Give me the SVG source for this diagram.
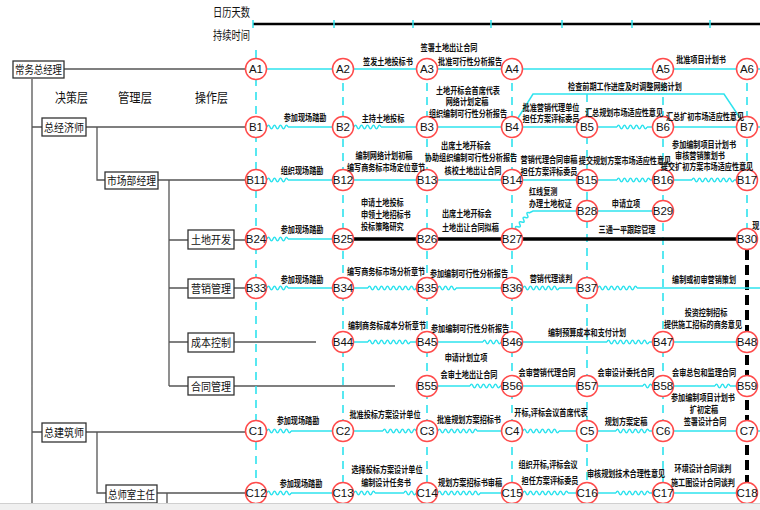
<svg xmlns="http://www.w3.org/2000/svg" width="760" height="510" viewBox="0 0 760 510">
<style>
.c{stroke:#2fe3ee;stroke-width:1.5;fill:none}
.k{stroke:#000;stroke-width:3.5;fill:none}
.d{stroke:#2fe3ee;stroke-width:1.6;stroke-dasharray:8 6;fill:none}
.kd{stroke:#000;stroke-width:4;stroke-dasharray:10 5;fill:none}
.o{stroke:#555;stroke-width:1.3;fill:none}
.n circle{fill:#fff;stroke:#ff4b4b;stroke-width:1.5}
.n text{font-family:"Liberation Sans",Arial,sans-serif;font-size:11.5px;text-anchor:middle;fill:#111}
.lb{font-family:"Noto Sans CJK SC","Noto Sans",sans-serif;font-size:9.5px;font-weight:bold;fill:#111;text-anchor:middle}
.ls{text-anchor:start}
.bx rect{fill:#fff;stroke:#333;stroke-width:1.3}
.bx text{font-family:"Noto Sans CJK SC","Noto Sans",sans-serif;font-size:11px;text-anchor:middle;fill:#111}
.hd{font-family:"Noto Sans CJK SC","Noto Sans",sans-serif;font-size:12px;fill:#111}
.ly{font-family:"Noto Sans CJK SC","Noto Sans",sans-serif;font-size:13px;fill:#111}
</style>
<rect width="760" height="510" fill="#fff"/>

<!-- header -->
<g id="header">
<text class="hd" x="213" y="17" textLength="37" lengthAdjust="spacingAndGlyphs">日历天数</text>
<text class="hd" x="213" y="40" textLength="37" lengthAdjust="spacingAndGlyphs">持续时间</text>
<line x1="253" y1="24" x2="760" y2="24" stroke="#000" stroke-width="2.5"/>
<g stroke="#2fe3ee" stroke-width="1.5">
<line x1="253" y1="20" x2="253" y2="28"/><line x1="334" y1="20" x2="334" y2="28"/><line x1="413" y1="20" x2="413" y2="28"/><line x1="491" y1="20" x2="491" y2="28"/><line x1="562" y1="20" x2="562" y2="28"/><line x1="632" y1="20" x2="632" y2="28"/><line x1="710" y1="20" x2="710" y2="28"/>
</g>
</g>

<!-- org chart -->
<g id="org-lines" class="o">
<path d="M64,69H245 M32,79V503 M32,127H42 M86,127H245 M97,127V180H105 M158,180H245 M169,180V386 M169,240H188 M169,288H188 M169,342H188 M169,386H188 M234,240H245 M234,288H245 M234,342H316 M234,386H395 M32,432H42 M86,432H245 M97,432V493H106 M157,493H245 M167,493V503"/>
</g>
<g id="org-changwu" class="bx"><rect x="13" y="61" width="51" height="17"/><text x="38.5" y="74" textLength="47" lengthAdjust="spacingAndGlyphs">常务总经理</text></g>
<g id="org-zongjingji" class="bx"><rect x="42" y="118" width="44" height="18"/><text x="64" y="131.5" textLength="40" lengthAdjust="spacingAndGlyphs">总经济师</text></g>
<g id="org-shichang" class="bx"><rect x="105" y="172" width="53" height="17"/><text x="131.5" y="185" textLength="49" lengthAdjust="spacingAndGlyphs">市场部经理</text></g>
<g id="org-tudi" class="bx"><rect x="188" y="230" width="46" height="19"/><text x="211" y="244" textLength="40" lengthAdjust="spacingAndGlyphs">土地开发</text></g>
<g id="org-yingxiao" class="bx"><rect x="188" y="279" width="46" height="19"/><text x="211" y="293" textLength="40" lengthAdjust="spacingAndGlyphs">营销管理</text></g>
<g id="org-chengben" class="bx"><rect x="188" y="333" width="46" height="19"/><text x="211" y="347" textLength="40" lengthAdjust="spacingAndGlyphs">成本控制</text></g>
<g id="org-hetong" class="bx"><rect x="188" y="377" width="46" height="18"/><text x="211" y="390.5" textLength="40" lengthAdjust="spacingAndGlyphs">合同管理</text></g>
<g id="org-zongjianzhu" class="bx"><rect x="42" y="423" width="44" height="19"/><text x="64" y="437" textLength="40" lengthAdjust="spacingAndGlyphs">总建筑师</text></g>
<g id="org-zongshishi" class="bx"><rect x="106" y="485" width="51" height="18"/><text x="131.5" y="498.5" textLength="47" lengthAdjust="spacingAndGlyphs">总师室主任</text></g>
<g id="layers">
<text class="ly" x="55" y="102" textLength="33" lengthAdjust="spacingAndGlyphs">决策层</text>
<text class="ly" x="118" y="102" textLength="34" lengthAdjust="spacingAndGlyphs">管理层</text>
<text class="ly" x="195" y="102" textLength="33" lengthAdjust="spacingAndGlyphs">操作层</text>
</g>

<!-- connectors -->
<g id="connectors">
<g class="d">
<line x1="256" y1="50" x2="256" y2="493"/>
<line x1="343" y1="69" x2="343" y2="493"/>
<line x1="427" y1="69" x2="427" y2="493"/>
<line x1="512" y1="69" x2="512" y2="493"/>
<line x1="587" y1="94" x2="587" y2="493"/>
<line x1="663" y1="69" x2="663" y2="493"/>
<line x1="747" y1="69" x2="747" y2="239"/>
</g>
<line class="kd" x1="747" y1="250" x2="747" y2="493"/>

<g class="c">
<path d="M267,69H332 M354,69H416 M438,69H501 M523,69H652 M674,69H736 M758,69H760"/>
<path d="M267,127 q1.5,-3.5 3,0 t3,0 t3,0 t3,0 t3,0 t3,0 t3,0 M288,127H332"/>
<path d="M354,127 q1.5,-3.5 3,0 t3,0 t3,0 t3,0 t3,0 t3,0 t3,0 t3,0 t3,0 M381,127H416"/>
<path d="M438,127H501 M523,127H576 M598,127H617 M647,127H652 M674,127H736 M758,127H760"/>
<path d="M617,127 q1.5,-3.5 3,0 t3,0 t3,0 t3,0 t3,0 t3,0 t3,0 t3,0 t3,0 t3,0"/>
<polyline points="518,118 533,94 724,94 740,118"/>
<path d="M267,180 q1.5,-3.5 3,0 t3,0 t3,0 t3,0 t3,0 t3,0 t3,0 M288,180H332 M354,180H416 M438,180H501 M523,180H576 M598,180H617 M650,180H652 M674,180H692 M734,180H736"/>
<path d="M617,180 q1.5,-3.5 3,0 t3,0 t3,0 t3,0 t3,0 t3,0 t3,0 t3,0 t3,0 t3,0 t3,0"/>
<path d="M692,180 q1.5,-3.5 3,0 t3,0 t3,0 t3,0 t3,0 t3,0 t3,0 t3,0 t3,0 t3,0 t3,0 t3,0 t3,0 t3,0"/>
<path d="M267,239 q1.5,-3.5 3,0 t3,0 t3,0 t3,0 t3,0 t3,0 t3,0 M288,239H332"/>
<path transform="translate(516,229) rotate(-50.5)" d="M0,0 q1.5,-3.5 3,0 t3,0 t3,0 t3,0 t3,0 t3,0 t3,0"/>
<polyline points="529,213 533,211 576,211"/>
<path d="M598,211H652"/>
<path d="M267,288 q1.5,-3.5 3,0 t3,0 t3,0 t3,0 t3,0 t3,0 t3,0 M288,288H332 M354,288H368"/>
<path d="M368,288 q1.5,-3.5 3,0 t3,0 t3,0 t3,0 t3,0 t3,0 t3,0 t3,0 t3,0 t3,0 t3,0 t3,0 t3,0 t3,0 t3,0 t3,0"/>
<path d="M438,288 q1.5,-3.5 3,0 t3,0 t3,0 t3,0 t3,0 t3,0 M456,288H501"/>
<path d="M523,288 q1.5,-3.5 3,0 t3,0 t3,0 t3,0 t3,0 t3,0 t3,0 t3,0 t3,0 t3,0 t3,0 t3,0 M559,288H576"/>
<path d="M598,288 q1.5,-3.5 3,0 t3,0 t3,0 t3,0 t3,0 t3,0 t3,0 t3,0 t3,0 t3,0 t3,0 t3,0 t3,0 M637,288H760"/>
<path d="M354,342H368 M410,342H416 M438,342H483 M523,342H607 M649,342H652 M674,342H736"/>
<path d="M368,342 q1.5,-3.5 3,0 t3,0 t3,0 t3,0 t3,0 t3,0 t3,0 t3,0 t3,0 t3,0 t3,0 t3,0 t3,0 t3,0"/>
<path d="M483,342 q1.5,-3.5 3,0 t3,0 t3,0 t3,0 t3,0 t3,0"/>
<path d="M607,342 q1.5,-3.5 3,0 t3,0 t3,0 t3,0 t3,0 t3,0 t3,0 t3,0 t3,0 t3,0 t3,0 t3,0 t3,0 t3,0"/>
<path d="M438,386H470 M500,386H501 M523,386H576 M598,386H643 M674,386H715 M730,386H736"/>
<path d="M470,386 q1.5,-3.5 3,0 t3,0 t3,0 t3,0 t3,0 t3,0 t3,0 t3,0 t3,0 t3,0"/>
<path d="M643,386 q1.5,-3.5 3,0 t3,0 t3,0"/>
<path d="M715,386 q1.5,-3.5 3,0 t3,0 t3,0 t3,0 t3,0"/>
<path d="M267,431 q1.5,-3.5 3,0 t3,0 t3,0 t3,0 t3,0 t3,0 t3,0 t3,0 M291,431H332 M354,431H383"/>
<path d="M383,431 q1.5,-3.5 3,0 t3,0 t3,0 t3,0 t3,0 t3,0 t3,0 t3,0 t3,0 t3,0 t3,0"/>
<path d="M438,431 q1.5,-3.5 3,0 t3,0 t3,0 t3,0 t3,0 t3,0 t3,0 t3,0 t3,0 t3,0 t3,0 t3,0 t3,0 M477,431H501"/>
<path d="M523,431 q1.5,-3.5 3,0 t3,0 t3,0 t3,0 t3,0 t3,0 t3,0 t3,0 t3,0 t3,0 t3,0 t3,0 M559,431H576 M598,431H616"/>
<path d="M616,431 q1.5,-3.5 3,0 t3,0 t3,0 t3,0 t3,0 t3,0 t3,0 t3,0 t3,0 t3,0 t3,0 M649,431H652 M674,431H736 M758,431H760"/>
<path d="M267,493 q1.5,-3.5 3,0 t3,0 t3,0 t3,0 t3,0 t3,0 t3,0 t3,0 M291,493H332"/>
<path d="M354,493 q1.5,-3.5 3,0 t3,0 t3,0 t3,0 t3,0 t3,0 t3,0 M375,493H404"/>
<path d="M404,493 q1.5,-3.5 3,0 t3,0 t3,0 t3,0"/>
<path d="M438,493 q1.5,-3.5 3,0 t3,0 t3,0 t3,0 t3,0 t3,0 t3,0 t3,0 t3,0 t3,0 t3,0 t3,0 t3,0 t3,0 M480,493H501"/>
<path d="M523,493 q1.5,-3.5 3,0 t3,0 t3,0 t3,0 t3,0 t3,0 t3,0 t3,0 t3,0 t3,0 t3,0 t3,0 t3,0 t3,0 t3,0 M568,493H576 M598,493H616"/>
<path d="M616,493 q1.5,-3.5 3,0 t3,0 t3,0 t3,0 t3,0 t3,0 t3,0 t3,0 t3,0 t3,0 t3,0 M649,493H652 M674,493H736"/>
</g>
<path class="k" d="M354,239H416 M438,239H501 M523,239H736"/>
</g>

<!-- nodes -->
<g id="A1" class="n"><circle cx="256" cy="69" r="10.5"/><text x="256" y="73">A1</text></g>
<g id="A2" class="n"><circle cx="343" cy="69" r="10.5"/><text x="343" y="73">A2</text></g>
<g id="A3" class="n"><circle cx="427" cy="69" r="10.5"/><text x="427" y="73">A3</text></g>
<g id="A4" class="n"><circle cx="512" cy="69" r="10.5"/><text x="512" y="73">A4</text></g>
<g id="A5" class="n"><circle cx="663" cy="69" r="10.5"/><text x="663" y="73">A5</text></g>
<g id="A6" class="n"><circle cx="747" cy="69" r="10.5"/><text x="747" y="73">A6</text></g>

<g id="B1" class="n"><circle cx="256" cy="127" r="10.5"/><text x="256" y="131">B1</text></g>
<g id="B2" class="n"><circle cx="343" cy="127" r="10.5"/><text x="343" y="131">B2</text></g>
<g id="B3" class="n"><circle cx="427" cy="127" r="10.5"/><text x="427" y="131">B3</text></g>
<g id="B4" class="n"><circle cx="512" cy="127" r="10.5"/><text x="512" y="131">B4</text></g>
<g id="B5" class="n"><circle cx="587" cy="127" r="10.5"/><text x="587" y="131">B5</text></g>
<g id="B6" class="n"><circle cx="663" cy="127" r="10.5"/><text x="663" y="131">B6</text></g>
<g id="B7" class="n"><circle cx="747" cy="127" r="10.5"/><text x="747" y="131">B7</text></g>

<g id="B11" class="n"><circle cx="256" cy="180" r="10.5"/><text x="256" y="184">B11</text></g>
<g id="B12" class="n"><circle cx="343" cy="180" r="10.5"/><text x="343" y="184">B12</text></g>
<g id="B13" class="n"><circle cx="427" cy="180" r="10.5"/><text x="427" y="184">B13</text></g>
<g id="B14" class="n"><circle cx="512" cy="180" r="10.5"/><text x="512" y="184">B14</text></g>
<g id="B15" class="n"><circle cx="587" cy="180" r="10.5"/><text x="587" y="184">B15</text></g>
<g id="B16" class="n"><circle cx="663" cy="180" r="10.5"/><text x="663" y="184">B16</text></g>
<g id="B17" class="n"><circle cx="747" cy="180" r="10.5"/><text x="747" y="184">B17</text></g>

<g id="B24" class="n"><circle cx="256" cy="239" r="10.5"/><text x="256" y="243">B24</text></g>
<g id="B25" class="n"><circle cx="343" cy="239" r="10.5"/><text x="343" y="243">B25</text></g>
<g id="B26" class="n"><circle cx="427" cy="239" r="10.5"/><text x="427" y="243">B26</text></g>
<g id="B27" class="n"><circle cx="512" cy="239" r="10.5"/><text x="512" y="243">B27</text></g>
<g id="B28" class="n"><circle cx="587" cy="211" r="10.5"/><text x="587" y="215">B28</text></g>
<g id="B29" class="n"><circle cx="663" cy="211" r="10.5"/><text x="663" y="215">B29</text></g>
<g id="B30" class="n"><circle cx="747" cy="239" r="10.5"/><text x="747" y="243">B30</text></g>

<g id="B33" class="n"><circle cx="256" cy="288" r="10.5"/><text x="256" y="292">B33</text></g>
<g id="B34" class="n"><circle cx="343" cy="288" r="10.5"/><text x="343" y="292">B34</text></g>
<g id="B35" class="n"><circle cx="427" cy="288" r="10.5"/><text x="427" y="292">B35</text></g>
<g id="B36" class="n"><circle cx="512" cy="288" r="10.5"/><text x="512" y="292">B36</text></g>
<g id="B37" class="n"><circle cx="587" cy="288" r="10.5"/><text x="587" y="292">B37</text></g>

<g id="B44" class="n"><circle cx="343" cy="342" r="10.5"/><text x="343" y="346">B44</text></g>
<g id="B45" class="n"><circle cx="427" cy="342" r="10.5"/><text x="427" y="346">B45</text></g>
<g id="B46" class="n"><circle cx="512" cy="342" r="10.5"/><text x="512" y="346">B46</text></g>
<g id="B47" class="n"><circle cx="663" cy="342" r="10.5"/><text x="663" y="346">B47</text></g>
<g id="B48" class="n"><circle cx="747" cy="342" r="10.5"/><text x="747" y="346">B48</text></g>

<g id="B55" class="n"><circle cx="427" cy="386" r="10.5"/><text x="427" y="390">B55</text></g>
<g id="B56" class="n"><circle cx="512" cy="386" r="10.5"/><text x="512" y="390">B56</text></g>
<g id="B57" class="n"><circle cx="587" cy="386" r="10.5"/><text x="587" y="390">B57</text></g>
<g id="B58" class="n"><circle cx="663" cy="386" r="10.5"/><text x="663" y="390">B58</text></g>
<g id="B59" class="n"><circle cx="747" cy="386" r="10.5"/><text x="747" y="390">B59</text></g>

<g id="C1" class="n"><circle cx="256" cy="431" r="10.5"/><text x="256" y="435">C1</text></g>
<g id="C2" class="n"><circle cx="343" cy="431" r="10.5"/><text x="343" y="435">C2</text></g>
<g id="C3" class="n"><circle cx="427" cy="431" r="10.5"/><text x="427" y="435">C3</text></g>
<g id="C4" class="n"><circle cx="512" cy="431" r="10.5"/><text x="512" y="435">C4</text></g>
<g id="C5" class="n"><circle cx="587" cy="431" r="10.5"/><text x="587" y="435">C5</text></g>
<g id="C6" class="n"><circle cx="663" cy="431" r="10.5"/><text x="663" y="435">C6</text></g>
<g id="C7" class="n"><circle cx="747" cy="431" r="10.5"/><text x="747" y="435">C7</text></g>

<g id="C12" class="n"><circle cx="256" cy="493" r="10.5"/><text x="256" y="497">C12</text></g>
<g id="C13" class="n"><circle cx="343" cy="493" r="10.5"/><text x="343" y="497">C13</text></g>
<g id="C14" class="n"><circle cx="427" cy="493" r="10.5"/><text x="427" y="497">C14</text></g>
<g id="C15" class="n"><circle cx="512" cy="493" r="10.5"/><text x="512" y="497">C15</text></g>
<g id="C16" class="n"><circle cx="587" cy="493" r="10.5"/><text x="587" y="497">C16</text></g>
<g id="C17" class="n"><circle cx="663" cy="493" r="10.5"/><text x="663" y="497">C17</text></g>
<g id="C18" class="n"><circle cx="747" cy="493" r="10.5"/><text x="747" y="497">C18</text></g>

<!-- labels -->
<g id="labels" class="lb" transform="scale(0.75,1)">
<text x="517.3" y="65">签发土地投标书</text>
<text x="598.7" y="51">签署土地出让合同</text>
<text x="626.7" y="65">批准可行性分析报告</text>
<text x="934.7" y="63">批准项目计划书</text>

<text x="406.7" y="121">参加现场踏勘</text>
<text x="510.7" y="122">主持土地投标</text>
<text x="624" y="94">土地开标会首席代表</text>
<text x="622.7" y="105.5">网络计划定稿</text>
<text x="624" y="117">组织编制可行性分析报告</text>
<text x="833.3" y="90">检查前期工作进度及时调整网络计划</text>
<text x="734.7" y="111">批准营销代理单位</text>
<text x="734.7" y="122">担任方案评标委员</text>
<text x="832" y="116">汇总规划市场适应性意见</text>
<text x="940" y="120">汇总扩初市场适应性意见</text>

<text x="402.7" y="174">组织现场踏勘</text>
<text x="512" y="159">编制网络计划初稿</text>
<text x="514.7" y="171">编写商务标市场定位章节</text>
<text x="621.3" y="149">出席土地开标会</text>
<text x="628" y="161">协助组织编制可行性分析报告</text>
<text x="630.7" y="174">核校土地出让合同</text>
<text x="732" y="163">营销代理合同审稿</text>
<text x="732" y="175">担任方案评标委员</text>
<text x="833.3" y="164">提交规划方案市场适应性意见</text>
<text x="938.7" y="148">参加编制项目计划书</text>
<text x="933.3" y="159">审核营销策划书</text>
<text x="942.7" y="170">提交扩初方案市场适应性意见</text>

<text x="402.7" y="233">参加现场踏勘</text>
<text class="ls" x="481.3" y="206">申请土地投标</text>
<text class="ls" x="481.3" y="218">申领土地招标书</text>
<text class="ls" x="481.3" y="230">投标策略研究</text>
<text class="ls" x="589.3" y="217">出席土地开标会</text>
<text class="ls" x="589.3" y="231">土地出让合同拟稿</text>
<text class="ls" x="705.3" y="195.5">红线复测</text>
<text class="ls" x="705.3" y="207">办理土地权证</text>
<text x="834.7" y="207">申请立项</text>
<text x="836" y="233">三通一平跟踪管理</text>
<text class="ls" x="1003" y="229">现</text>

<text x="402.7" y="283">参加现场踏勘</text>
<text x="514.7" y="275">编写商务标市场分析章节</text>
<text x="625.3" y="277">参加编制可行性分析报告</text>
<text x="734.7" y="282">营销代理谈判</text>
<text x="938.7" y="283">编制或初审营销策划</text>

<text x="516" y="329">编制商务标成本分析章节</text>
<text x="626.7" y="332">参加编制可行性分析报告</text>
<text x="782.7" y="336">编制预算成本和支付计划</text>
<text x="941.3" y="316">投资控制招标</text>
<text x="937.3" y="328">提供施工招标的商务意见</text>

<text x="621.3" y="361">申请计划立项</text>
<text x="625.3" y="378">会审土地出让合同</text>
<text x="729.3" y="376">会审营销代理合同</text>
<text x="834.7" y="376">会审设计委托合同</text>
<text x="938.7" y="376">会审总包和监理合同</text>

<text x="397.3" y="424">参加现场踏勘</text>
<text x="513.3" y="418">批准投标方案设计单位</text>
<text x="625.3" y="423">批准规划方案招标书</text>
<text x="734.7" y="416">开标,评标会议首席代表</text>
<text x="834.7" y="425">规划方案定稿</text>
<text x="937.3" y="401">参加编制项目计划书</text>
<text x="938.7" y="413">扩初定稿</text>
<text x="940" y="425">签署设计合同</text>

<text x="401.3" y="487">参加现场踏勘</text>
<text x="516" y="473">选择投标方案设计单位</text>
<text x="514.7" y="486">编制设计任务书</text>
<text x="626.7" y="486">规划方案招标书审稿</text>
<text x="730.7" y="468">组织开标,评标会议</text>
<text x="733.3" y="484">担任方案评标委员</text>
<text x="834.7" y="477">审核规划技术合理性意见</text>
<text x="937.3" y="472">环境设计合同谈判</text>
<text x="937.3" y="486">施工图设计合同谈判</text>
</g>

<!-- bottom bar -->
<rect x="0" y="503" width="760" height="7" fill="#f0f0f0"/>
<line x1="0" y1="503.5" x2="760" y2="503.5" stroke="#d0d0d0" stroke-width="1"/>
</svg>
